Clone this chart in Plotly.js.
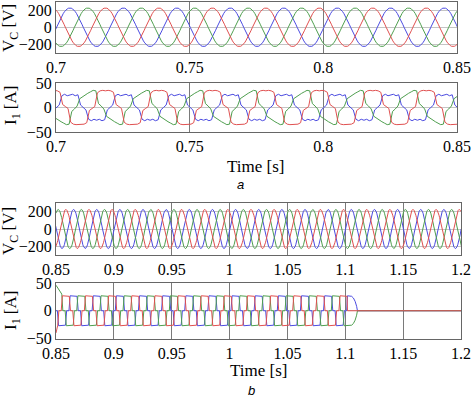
<!DOCTYPE html>
<html><head><meta charset="utf-8">
<script src="https://cdn.plot.ly/plotly-3.0.1.min.js"></script>
<style>html,body{margin:0;padding:0;background:#fff}#chart{width:474px;height:397px}</style>
</head><body><div id="chart"></div>
<script>
// ---------------- data ----------------
const period = 0.02;                       // 50 Hz supply
const phaseNames = ['Phase 1', 'Phase 2', 'Phase 3'];
const phaseColors = ['#4b4be0', '#4f9f4f', '#e05050'];   // blue, green, red
const voltagePeakTimes = [0.7052, 0.7119, 0.7185];      // first voltage crest of each phase

const timeRangeA = [0.7, 0.85];
const timeRangeB = [0.85, 1.2];
const timeTicksA = [0.7, 0.75, 0.8, 0.85];
const timeTickTextA = ['0.7', '0.75', '0.8', '0.85'];
const timeTicksB = [0.85, 0.9, 0.95, 1, 1.05, 1.1, 1.15, 1.2];
const timeTickTextB = ['0.85', '0.9', '0.95', '1', '1.05', '1.1', '1.15', '1.2'];
const vcTicks = [-200, 0, 200];
const iTicks = [-50, 0, 50];

// capacitor voltage, one period sampled every 0.5 ms from the crest [V]
const vcStep = 0.0005;
const vcShape = [225, 222, 214, 200, 182, 159, 132, 102, 70, 35, 0, -35, -70, -102, -132, -159, -182, -200, -214, -222,
                 -225, -222, -214, -200, -182, -159, -132, -102, -70, -35, 0, 35, 70, 102, 132, 159, 182, 200, 214, 222];

// line current, one period sampled every 1 ms from the voltage crest [A]
const iStep = 0.001;
const i1ShapeA_blue  = [25, 27, 24, 26, 5, 0, -5, -24, -27, -24, -26, -24, -27, -25, -5, 0, 5, 24, 27, 24];
const i1ShapeA_green = [29, 32, 35, 34, 8, 3, -3, -18, -22, -26, -29, -32, -35, -34, -8, -3, 3, 18, 22, 26];
const i1ShapeA_red   = [34, 35, 34, 31, 6, 2, -2, -30, -34, -35, -35, -35, -34, -31, -6, -2, 2, 30, 34, 35];
const i1ShapeB       = [27, 27, 26, 26, 0, 0, 0, -27, -27, -27, -27, -27, -26, -26, 0, 0, 0, 27, 27, 26];

// start-up transient of panel b (time, current)
const startTimesB   = [0.85, 0.851, 0.852, 0.853, 0.854, 0.855];
const startGreenB   = [46, 43, 40, 37, 33, 30];
const startRedB     = [-40, -33];
// current collapse after the switch-off at 1.1 s (time, current)
const stopTimeB     = 1.1018;
const stopTimes     = [1.1019, 1.104, 1.1055, 1.107, 1.1085, 1.1098, 1.1105, 1.2];
const stopBlue      = [27, 27, 26, 23, 17, 8, 0, 0];
const stopGreen     = [-27, -27, -26, -23, -17, -8, 0, 0];
const stopRed       = [0, 0, 0, 0, 0, 0, 0, 0];

// ---------------- build traces ----------------
function tile(shape, step, peak, t0, t1) {
  const xs = [], ys = [];
  const kStart = Math.floor((t0 - peak) / period) - 1;
  const kEnd = Math.ceil((t1 - peak) / period) + 1;
  for (let k = kStart; k <= kEnd; k++) {
    for (let i = 0; i < shape.length; i++) {
      const t = peak + k * period + i * step;
      if (t >= t0 - step && t <= t1 + step) { xs.push(+t.toFixed(6)); ys.push(shape[i]); }
    }
  }
  return [xs, ys];
}

const traces = [];
const iShapesA = [i1ShapeA_blue, i1ShapeA_green, i1ShapeA_red];
for (let p = 0; p < 3; p++) {
  const line = {color: phaseColors[p], width: 1};
  let [x, y] = tile(vcShape, vcStep, voltagePeakTimes[p], timeRangeA[0], timeRangeA[1]);
  traces.push({x, y, xaxis: 'x', yaxis: 'y', mode: 'lines', line, name: phaseNames[p], showlegend: false});
  [x, y] = tile(iShapesA[p], iStep, voltagePeakTimes[p], timeRangeA[0], timeRangeA[1]);
  traces.push({x, y, xaxis: 'x2', yaxis: 'y2', mode: 'lines', line, name: phaseNames[p], showlegend: false});
  [x, y] = tile(vcShape, vcStep, voltagePeakTimes[p], timeRangeB[0], timeRangeB[1]);
  traces.push({x, y, xaxis: 'x3', yaxis: 'y3', mode: 'lines', line, name: phaseNames[p], showlegend: false});
  // currents of panel b
  [x, y] = tile(i1ShapeB, iStep, voltagePeakTimes[p], timeRangeB[0], stopTimeB);
  let xs = [], ys = [];
  let startT = [], startV = [];
  if (p === 1) { startT = startTimesB; startV = startGreenB; }
  if (p === 2) { startT = startTimesB.slice(0, startRedB.length); startV = startRedB; }
  const tStartEnd = startT.length ? startT[startT.length - 1] : -1;
  startT.forEach((t, i) => { xs.push(t); ys.push(startV[i]); });
  x.forEach((t, i) => { if (t > tStartEnd && t <= stopTimeB) { xs.push(t); ys.push(y[i]); } });
  const stopV = [stopBlue, stopGreen, stopRed][p];
  stopTimes.forEach((t, i) => { xs.push(t); ys.push(stopV[i]); });
  traces.push({x: xs, y: ys, xaxis: 'x4', yaxis: 'y4', mode: 'lines', line, name: phaseNames[p], showlegend: false});
}

// ---------------- layout ----------------
const W = 474, H = 397;
const SERIF = 'Liberation Serif';
const xd = (l, r) => [l / W, r / W];
const yd = (top, bottom) => [1 - bottom / H, 1 - top / H];
const tickFont = {family: SERIF, size: 16, color: '#000'};
function xAxis(dom, anchor, range, vals, txt) {
  return {domain: dom, anchor, range, tickmode: 'array', tickvals: vals, ticktext: txt,
    showgrid: true, gridcolor: '#7a7a7a', gridwidth: 1, zeroline: false,
    showline: true, mirror: true, linecolor: '#666', linewidth: 1, ticks: '', tickfont: tickFont};
}
function yAxis(dom, anchor, range, vals) {
  return {domain: dom, anchor, range, tickmode: 'array', tickvals: vals,
    showgrid: true, gridcolor: '#c4c4c4', gridwidth: 1, zeroline: false,
    showline: true, mirror: true, linecolor: '#666', linewidth: 1, ticks: '', tickfont: tickFont};
}
const titleFont = {family: SERIF, size: 17, color: '#000'};
function ann(text, px, py, extra) {
  return Object.assign({text, x: px / W, y: 1 - py / H, xref: 'paper', yref: 'paper',
    showarrow: false, font: titleFont, xanchor: 'center', yanchor: 'middle'}, extra || {});
}
const italicFont = {family: 'Liberation Sans', size: 13, color: '#000', style: 'italic'};
const layout = {
  width: W, height: H, margin: {l: 0, r: 0, t: 0, b: 0},
  paper_bgcolor: '#fff', plot_bgcolor: '#fff', showlegend: false,
  font: {family: SERIF},
  xaxis:  xAxis(xd(56, 457), 'y',  timeRangeA, timeTicksA, timeTickTextA),
  yaxis:  yAxis(yd(1.5, 53), 'x',  [-300, 300], vcTicks),
  xaxis2: xAxis(xd(56, 457), 'y2', timeRangeA, timeTicksA, timeTickTextA),
  yaxis2: yAxis(yd(83, 132), 'x2', [-50, 50], iTicks),
  xaxis3: xAxis(xd(56, 461), 'y3', timeRangeB, timeTicksB, timeTickTextB),
  yaxis3: yAxis(yd(203, 255), 'x3', [-300, 300], vcTicks),
  xaxis4: xAxis(xd(56, 461), 'y4', timeRangeB, timeTicksB, timeTickTextB),
  yaxis4: yAxis(yd(283, 338.5), 'x4', [-50, 50], iTicks),
  annotations: [
    ann('V<sub>C</sub> [V]', 10, 28, {textangle: -90}),
    ann('I<sub>1</sub> [A]', 12, 106, {textangle: -90}),
    ann('Time [s]', 256, 166),
    ann('a', 240, 184, {font: italicFont}),
    ann('V<sub>C</sub> [V]', 10, 231, {textangle: -90}),
    ann('I<sub>1</sub> [A]', 12, 311, {textangle: -90}),
    ann('Time [s]', 258, 370),
    ann('b', 252, 390, {font: italicFont})
  ]
};
Plotly.newPlot('chart', traces, layout, {staticPlot: true, displayModeBar: false});
</script></body></html>
